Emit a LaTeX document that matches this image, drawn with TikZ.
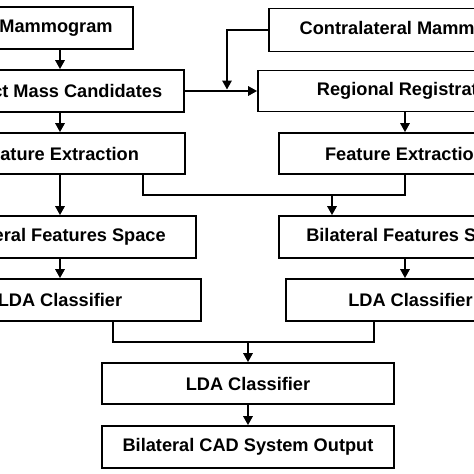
\documentclass[tikz,border=0pt]{standalone}
\usepackage{fontspec}
\setmainfont{Liberation Sans}
\usetikzlibrary{arrows.meta,positioning}
\tikzset{
  blk/.style={draw=black,line width=1.8pt,fill=white,minimum height=42pt,inner sep=2pt,
    font=\fontsize{18.2}{20}\selectfont\bfseries},
  ln/.style={line width=1.6pt,black},
  arr/.style={ln,-{Triangle[length=9pt,width=9.5pt]}},
}
\begin{document}
\begin{tikzpicture}[x=1pt,y=-1pt]
  \useasboundingbox (0,0) rectangle (474,474);
  \clip (0,0) rectangle (474,474);
  % left column
  \node[blk,minimum width=154pt] (mam) at (56,28) {Mammogram};
  \node[blk,minimum width=253pt] (cand) at (57.5,91) {Detect Mass Candidates};
  \node[blk,minimum width=252pt,minimum height=41pt] (featL) at (59,153.5) {Feature Extraction};
  \node[blk,minimum width=272pt] (bfsL) at (60,237) {Bilateral Features Space};
  \node[blk,minimum width=282pt] (ldaL) at (60,300) {LDA Classifier};
  % right column
  \node[blk,minimum width=292pt,minimum height=43pt] (contra) at (415,30) {Contralateral Mammogram};
  \node[blk,minimum width=306pt,minimum height=41pt] (reg) at (411,91) {Regional Registration};
  \node[blk,minimum width=252pt,minimum height=41pt] (featR) at (405,153.5) {Feature Extraction};
  \node[blk,minimum width=266pt] (bfsR) at (412,237) {Bilateral Features Space};
  \node[blk,minimum width=249pt] (ldaR) at (410.5,300) {LDA Classifier};
  % fusion
  \node[blk,minimum width=292pt,minimum height=41pt] (lda) at (248,383.5) {LDA Classifier};
  \node[blk,minimum width=292pt] (out) at (248,447) {Bilateral CAD System Output};
  \coordinate (jn) at (227,91);
  \coordinate (mergeF) at (332,195);
  \coordinate (mergeL) at (248,342);
  \draw[arr] (mam.south -| ldaL.north) -- (cand.north -| ldaL.north);
  \draw[arr] (cand.south -| ldaL.north) -- (featL.north -| ldaL.north);
  \draw[arr] (featL.south -| ldaL.north) -- (bfsL.north);
  \draw[arr] (bfsL) -- (ldaL);
  \draw[arr] (cand.east) -- (reg.west);
  \draw[arr,shorten >=1.5pt] (contra.west) -| (jn);
  \draw[arr] (reg.south -| featR.north) -- (featR.north);
  \draw[ln] ([xshift=84pt]featL.south) |- (mergeF) -| (featR.south);
  \draw[arr] (mergeF) -- (bfsR.north -| mergeF);
  \draw[arr] (bfsR.south -| featR.south) -- (ldaR.north -| featR.south);
  \draw[ln] ([xshift=53pt]ldaL.south) |- (mergeL) -| ([xshift=-36.5pt]ldaR.south);
  \draw[arr] (mergeL) -- (lda.north);
  \draw[arr] (lda) -- (out);
\end{tikzpicture}
\end{document}
